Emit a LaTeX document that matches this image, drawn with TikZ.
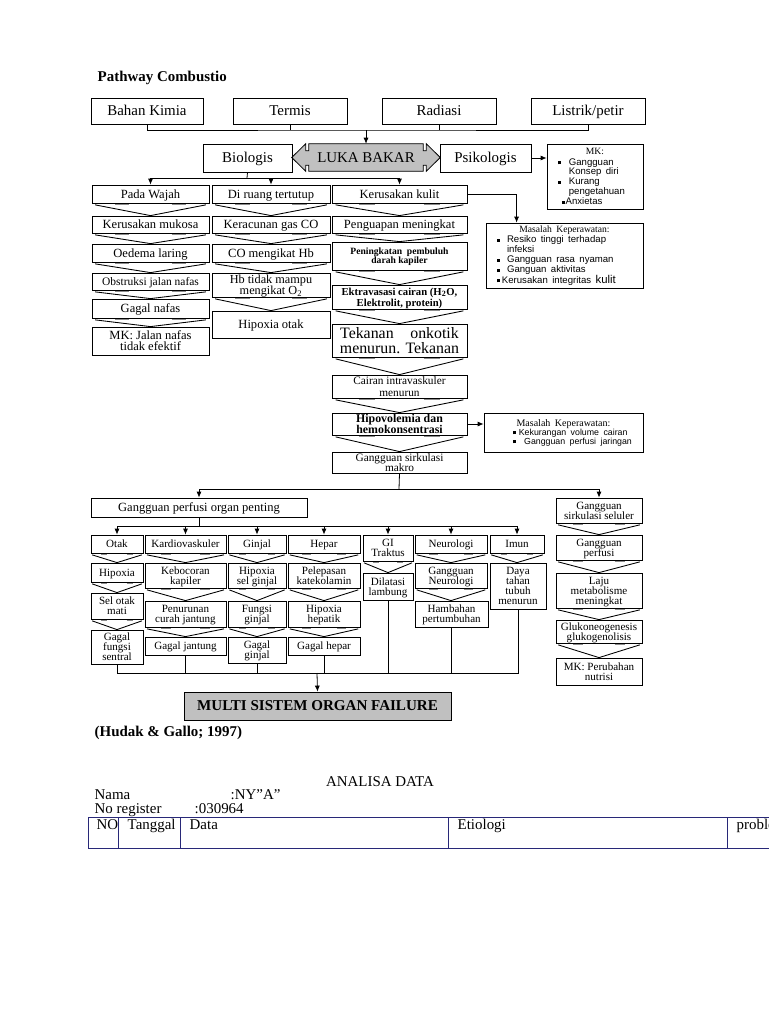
\documentclass[tikz,border=0pt]{standalone}
\usepackage{fontspec}
\setmainfont{Liberation Serif}
\newfontfamily\arialfont{Liberation Sans}
\usetikzlibrary{arrows.meta, calc, backgrounds}

\definecolor{fillgray}{RGB}{192,192,192}
\definecolor{tablecol}{RGB}{40,40,120}

\lineskiplimit=-20pt
\normallineskiplimit=-20pt
\newcommand*{\fTop}{\fontsize{11.2}{12}\selectfont}
\newcommand*{\fCol}{\fontsize{9.4}{8.2}\selectfont}
\newcommand*{\fOrg}{\fontsize{8.3}{7.6}\selectfont}
\newcommand*{\fNote}{\arialfont\fontsize{7.2}{7}\selectfont\lineskiplimit=-20pt\relax}
\newcommand*{\sqbullet}{\rule[0.6pt]{2.2pt}{2.2pt}}
\newcommand*{\mkitem}[3]{\par\noindent\hangindent=#1\hangafter=1\makebox[#1][l]{\hspace*{#2}\sqbullet}#3}

\tikzstyle{box} = [draw, line width=0.6pt, rectangle, inner sep=0pt, align=center, font=\fCol, text depth=0pt]
\tikzstyle{topbox} = [box, font=\fTop, text depth=0.6pt]
\tikzstyle{organ} = [box, font=\fOrg]
\tikzstyle{note} = [draw, line width=0.6pt, rectangle, inner sep=0pt, align=left]
\tikzstyle{label text} = [font=\fTop, anchor=base west]
\tikzstyle{flow} = [-{Latex[length=4.5pt, width=3.8pt]}, line width=0.6pt]
\tikzstyle{link} = [line width=0.6pt]
\tikzstyle{notch} = [line width=0.65pt, line join=miter]
\tikzstyle{shaft} = [line width=1.3pt, black!45]
\tikzstyle{grid} = [line width=0.7pt, tablecol]
\tikzset{wh/.style 2 args={minimum width=#1*0.75pt, minimum height=#2*0.75pt}}

% Arrow notch under a box, pointing at the next one.
\newcommand*{\downcallout}[2]{%
    \path (#1.south west) -- (#1.south east)
        coordinate [pos=0.03] (notch l) coordinate [pos=0.97] (notch r)
        coordinate [pos=0.2] (shaft 1) coordinate [pos=0.32] (shaft 2)
        coordinate [pos=0.68] (shaft 3) coordinate [pos=0.8] (shaft 4);
    \draw [notch] ([yshift=-1.1pt]notch l) -- (#1.south |- #2.north) -- ([yshift=-1.1pt]notch r);
    \draw [shaft] ([yshift=-0.9pt]shaft 1) -- ([yshift=-0.9pt]shaft 2);
    \draw [shaft] ([yshift=-0.9pt]shaft 3) -- ([yshift=-0.9pt]shaft 4);
}

\begin{document}
\begin{tikzpicture}[x=0.75pt, y=-0.75pt]
    \useasboundingbox (0,0) rectangle (768,1024);

    \node (title) [label text, font=\fTop\bfseries] at (93,82) {Pathway Combustio};

    % Causes.
    \node (cause 1) [topbox, wh={112}{26}] at (147,111) {Bahan Kimia};
    \node (cause 2) [topbox, wh={114}{26}] at (290,111) {Termis};
    \node (cause 3) [topbox, wh={114}{26}] at (439,111) {Radiasi};
    \node (cause 4) [topbox, wh={114}{26}] at (588,111) {Listrik/petir};

    % Burn wound and its two sides.
    \node (luka) [wh={114}{27}, inner sep=0pt, font=\fTop, text depth=0pt] at (366,157.5) {LUKA BAKAR};
    \node (biologis) [topbox, wh={89}{28}] at (247.5,158) {Biologis};
    \node (psikologis) [topbox, wh={91}{28}] at (485.5,158) {Psikologis};

    \begin{scope}[on background layer]
        \draw [line width=0.6pt, fill=fillgray] (luka.north west) -- (luka.north east)
            -- ([shift={(0,7)}]luka.north east) -- ([shift={(3,7)}]luka.north east)
            -- ([shift={(3,0)}]luka.north east) -- ([shift={(17,0)}]luka.east)
            -- ([shift={(3,0)}]luka.south east) -- ([shift={(3,-6)}]luka.south east)
            -- ([shift={(0,-6)}]luka.south east) -- (luka.south east)
            -- (luka.south west) -- ([shift={(0,-6)}]luka.south west)
            -- ([shift={(-3,-6)}]luka.south west) -- ([shift={(-3,0)}]luka.south west)
            -- ([shift={(-17,0)}]luka.west) -- ([shift={(-3,0)}]luka.north west)
            -- ([shift={(-3,7)}]luka.north west) -- ([shift={(0,7)}]luka.north west) -- cycle;
    \end{scope}

    \node (mk psiko) [note, wh={96}{65}, text width=64pt] at (595,176.5) {%
        \fNote\setlength{\parskip}{0.8pt}%
        {\centering\rmfamily MK:\par}
        \mkitem{12.4pt}{4.5pt}{Gangguan\newline Konsep diri}
        \mkitem{12.4pt}{4.5pt}{Kurang\newline pengetahuan}
        \mkitem{10pt}{7pt}{Anxietas}\par\vspace{1pt}};

    % Airway column.
    \node (airway 1) [box, wh={117}{18}] at (150.5,194) {Pada Wajah};
    \node (airway 2) [box, wh={117}{17}] at (150.5,224.5) {Kerusakan mukosa};
    \node (airway 3) [box, wh={117}{18}] at (150.5,253) {Oedema laring};
    \node (airway 4) [box, wh={117}{17}, font=\fontsize{8.6}{8}\selectfont] at (150.5,281.5) {Obstruksi jalan nafas};
    \node (airway 5) [box, wh={117}{19}] at (150.5,308.5) {Gagal nafas};
    \node (airway 6) [box, wh={117}{28}] at (150.5,341) {MK: Jalan nafas\\tidak efektif};

    % Closed room column.
    \node (co 1) [box, wh={118}{18}] at (271,194) {Di ruang tertutup};
    \node (co 2) [box, wh={118}{17}] at (271,224.5) {Keracunan gas CO};
    \node (co 3) [box, wh={118}{18}] at (271,253) {CO mengikat Hb};
    \node (co 4) [box, wh={118}{24}, font=\fontsize{9.2}{8.2}\selectfont] at (271,285) {Hb tidak mampu\\mengikat O\textsubscript{2}};
    \node (co 5) [box, wh={118}{27}] at (271,324.5) {Hipoxia otak};

    % Skin column.
    \node (skin 1) [box, wh={135}{18}] at (399.5,194) {Kerusakan kulit};
    \node (skin 2) [box, wh={135}{17}] at (399.5,224.5) {Penguapan meningkat};
    \node (skin 3) [box, wh={135}{28}, font=\fontsize{7.2}{7}\selectfont\bfseries] at (399.5,256) {Peningkatan\ \ pembuluh\\darah kapiler};
    \node (skin 4) [box, wh={135}{24}, font=\fontsize{8}{8.2}\selectfont\bfseries] at (399.5,297) {Ektravasasi cairan (H\textsubscript{2}O,\\Elektrolit, protein)};
    \node (skin 5) [box, wh={135}{33}, font=\fontsize{11.9}{10.8}\selectfont] at (399.5,340.5) {\makebox[89pt][s]{Tekanan onkotik}\\menurun. Tekanan};
    \node (skin 6) [box, wh={135}{23}, font=\fontsize{8.5}{8.4}\selectfont] at (399.5,386.5) {Cairan intravaskuler\\menurun};
    \node (skin 7) [box, wh={135}{22}, font=\fontsize{8.9}{8.4}\selectfont\bfseries] at (399.5,424) {Hipovolemia dan\\hemokonsentrasi};
    \node (skin 8) [box, wh={135}{21}, font=\fontsize{8.5}{7.6}\selectfont] at (399.5,462.5) {Gangguan sirkulasi\\makro};

    % Nursing problems.
    \node (mk skin) [note, wh={157}{65}, text width=105pt] at (564.5,255.5) {%
        \fNote\fontsize{7.2}{7.2}\selectfont\setlength{\parskip}{0.5pt}%
        {\centering\rmfamily Masalah Keperawatan:\par}
        \mkitem{9.4pt}{2pt}{\makebox[94pt][s]{Resiko tinggi terhadap}\newline infeksi}
        \mkitem{9.4pt}{2pt}{Gangguan rasa nyaman}
        \mkitem{9.4pt}{2pt}{Ganguan aktivitas}
        \mkitem{5.6pt}{2pt}{Kerusakan integritas {\fontsize{8.5}{7.2}\selectfont kulit}}\par\vspace{1pt}};
    \node (mk hipo) [note, wh={159}{39}, text width=105pt] at (563.5,432.5) {%
        \fNote\fontsize{6.6}{6.75}\selectfont\setlength{\parskip}{0pt}%
        {\centering\rmfamily\fontsize{7.5}{6.75}\selectfont Masalah Keperawatan:\par}
        \mkitem{19pt}{14.6pt}{Kekurangan volume cairan}
        \mkitem{23pt}{14.6pt}{Gangguan perfusi jaringan}\par\vspace{5pt}};

    % Organ perfusion.
    \node (perfusi) [box, wh={216}{19}] at (199,507.5) {Gangguan perfusi organ penting};

    \node (otak 1) [organ, wh={52}{18}] at (117,544) {Otak};
    \node (kardio 1) [organ, wh={81}{18}] at (185.5,544) {Kardiovaskuler};
    \node (ginjal 1) [organ, wh={58}{18}] at (257,544) {Ginjal};
    \node (hepar 1) [organ, wh={72}{18}] at (324,544) {Hepar};
    \node (gi 1) [organ, wh={50}{26}] at (388,548) {GI\\Traktus};
    \node (neuro 1) [organ, wh={72}{18}] at (451,544) {Neurologi};
    \node (imun 1) [organ, wh={54}{18}] at (517,544) {Imun};

    \node (otak 2) [organ, wh={52}{19}] at (117,572.5) {Hipoxia};
    \node (kardio 2) [organ, wh={81}{25}] at (185.5,575.5) {Kebocoran\\kapiler};
    \node (ginjal 2) [organ, wh={58}{25}] at (257,575.5) {Hipoxia\\sel ginjal};
    \node (hepar 2) [organ, wh={72}{25}] at (324,575.5) {Pelepasan\\katekolamin};
    \node (gi 2) [organ, wh={50}{27}] at (388,586.5) {Dilatasi\\lambung};
    \node (neuro 2) [organ, wh={72}{25}] at (451,575.5) {Gangguan\\Neurologi};
    \node (imun 2) [organ, wh={56}{46}] at (518,586) {Daya\\tahan\\tubuh\\menurun};

    \node (otak 3) [organ, wh={52}{26}] at (117,606) {Sel otak\\mati};
    \node (kardio 3) [organ, wh={81}{26}] at (185.5,614) {Penurunan\\curah jantung};
    \node (ginjal 3) [organ, wh={58}{26}] at (257,614) {Fungsi\\ginjal};
    \node (hepar 3) [organ, wh={72}{26}] at (324,614) {Hipoxia\\hepatik};
    \node (neuro 3) [organ, wh={73}{26}] at (451.5,614) {Hambahan\\pertumbuhan};

    \node (otak 4) [organ, wh={52}{34}] at (117,647) {Gagal\\fungsi\\sentral};
    \node (kardio 4) [organ, wh={81}{18}] at (185.5,646) {Gagal jantung};
    \node (ginjal 4) [organ, wh={58}{26}] at (257,650) {Gagal\\ginjal};
    \node (hepar 4) [organ, wh={72}{18}] at (324,646) {Gagal hepar};

    % Cellular circulation column.
    \node (seluler 1) [organ, wh={86}{25}] at (599,510.5) {Gangguan\\sirkulasi seluler};
    \node (seluler 2) [organ, wh={86}{25}] at (599,547.5) {Gangguan\\perfusi};
    \node (seluler 3) [organ, wh={86}{35}] at (599,590.5) {Laju\\metabolisme\\meningkat};
    \node (seluler 4) [organ, wh={86}{23}] at (599,631.5) {Glukoneogenesis\\glukogenolisis};
    \node (seluler 5) [organ, wh={86}{27}] at (599,671.5) {MK: Perubahan\\nutrisi};

    \node (multi) [box, wh={267}{28}, fill=fillgray, font=\fontsize{11.3}{12}\selectfont\bfseries] at (317.5,706) {MULTI SISTEM ORGAN FAILURE};
    \node (source) [label text, font=\fTop\bfseries] at (90,736) {(Hudak \& Gallo; 1997)};

    % Coordinates.
    \coordinate (join top) at (366,130);
    \coordinate (join bio) at (247,178);
    \coordinate (join makro) at (399,489);
    \coordinate (join organ) at (199,526);
    \coordinate (join fail) at (317,673);

    % Paths.
    \draw [link] (cause 1.south) |- (join top) -| (cause 4.south);
    \foreach \j in {2, 3} {%
        \draw [link] (cause \j.south) -- (cause \j.south |- join top);
    }
    \draw [flow] (join top) -- (luka.north);
    \draw [flow] (psikologis.east) -- (psikologis.east -| mk psiko.west);

    \draw [link] (biologis.south) -- (join bio);
    \draw [flow] (join bio) -| (airway 1.north);
    \draw [flow] (join bio) -| (skin 1.north);
    \draw [flow] (co 1.north |- join bio) -- (co 1.north);

    \draw [flow] (skin 1.east) -| ($(mk skin.north west)+(31,0)$);
    \draw [flow] (skin 7.east) -- (skin 7.east -| mk hipo.west);

    \draw [link] (skin 8.south) -- (join makro);
    \draw [flow] (join makro) -| (perfusi.north);
    \draw [flow] (join makro) -| (seluler 1.north);

    \draw [link] (perfusi.south) -- (join organ);
    \foreach \n in {otak 1, kardio 1, ginjal 1, hepar 1, gi 1, neuro 1, imun 1} {%
        \draw [flow] (join organ) -| (\n.north);
    }
    \foreach \n in {otak 4, kardio 4, ginjal 4, hepar 4, gi 2, neuro 3, imun 2} {%
        \draw [link] (\n.south) |- (join fail);
    }
    \draw [flow] (join fail) -- (multi.north);

    % Arrow notches down the columns.
    \foreach \j in {1, ..., 5} {%
        \pgfmathtruncatemacro{\k}{\j + 1}
        \downcallout{airway \j}{airway \k}
    }
    \foreach \j in {1, ..., 4} {%
        \pgfmathtruncatemacro{\k}{\j + 1}
        \downcallout{co \j}{co \k}
        \downcallout{seluler \j}{seluler \k}
    }
    \foreach \j in {1, ..., 7} {%
        \pgfmathtruncatemacro{\k}{\j + 1}
        \downcallout{skin \j}{skin \k}
    }
    \foreach \a/\b in {otak 1/otak 2, otak 2/otak 3, otak 3/otak 4,
        kardio 1/kardio 2, kardio 2/kardio 3, kardio 3/kardio 4,
        ginjal 1/ginjal 2, ginjal 2/ginjal 3, ginjal 3/ginjal 4,
        hepar 1/hepar 2, hepar 2/hepar 3, hepar 3/hepar 4,
        gi 1/gi 2, neuro 1/neuro 2, neuro 2/neuro 3, imun 1/imun 2} {%
        \downcallout{\a}{\b}
    }

    % Data analysis header.
    \node (analisa) [label text, anchor=base] at (380,786) {ANALISA DATA};
    \node (nama) [label text] at (90,799) {Nama};
    \node (nama val) [label text] at (226,799) {:NY”A"};
    \node (noreg) [label text] at (90,813) {No register};
    \node (noreg val) [label text] at (190,813) {:030964};

    \draw [grid] (88,817) rectangle (800,848);
    \foreach \c in {118, 180, 448, 727} {%
        \draw [grid] (\c,817) -- (\c,848);
    }
    \node (no) [label text] at (92,829) {NO};
    \node (tanggal) [label text] at (123,829) {Tanggal};
    \node (data) [label text] at (185,829) {Data};
    \node (etiologi) [label text] at (453,829) {Etiologi};
    \node (problem) [label text] at (732,829) {proble};
\end{tikzpicture}
\end{document}
